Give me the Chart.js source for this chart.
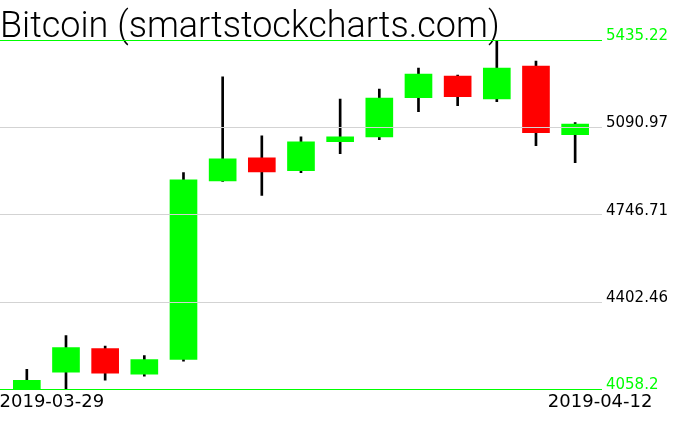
<!DOCTYPE html>
<html>
<head>
<meta charset="utf-8">
<script src="https://cdn.jsdelivr.net/npm/chart.js@4/dist/chart.umd.min.js"></script>
<style>
  html, body { margin: 0; padding: 0; background: #fff; }
  canvas { display: block; }
</style>
</head>
<body>
<canvas id="myChart" width="676" height="431"></canvas>
<script>
var dates = ["2019-03-29", "2019-03-30", "2019-03-31", "2019-04-01", "2019-04-02",
  "2019-04-03", "2019-04-04", "2019-04-05", "2019-04-06", "2019-04-07",
  "2019-04-08", "2019-04-09", "2019-04-10", "2019-04-11", "2019-04-12"];
var opens  = [4060.0, 4126.3, 4219.5, 4118.4, 4176.2, 4880.4, 4970.9, 4921.0, 5035.0, 5053.5, 5208.2, 5293.5, 5203.0, 5332.9, 5062.6];
var highs  = [4136.9, 4270.6, 4228.5, 4192.0, 4913.1, 5290.8, 5057.5, 5053.5, 5203.0, 5242.4, 5325.0, 5297.4, 5435.22, 5352.5, 5109.8];
var lows   = [4058.2, 4061.0, 4094.8, 4110.5, 4169.5, 4878.0, 4822.6, 4913.1, 4987.8, 5043.0, 5153.1, 5176.7, 5192.4, 5019.3, 4952.4];
var closes = [4093.6, 4223.4, 4122.3, 4176.2, 4884.4, 4967.0, 4915.8, 5033.9, 5053.5, 5207.0, 5301.4, 5212.1, 5325.0, 5070.4, 5104.7];
var yTickLabels = ["4058.2", "4402.46", "4746.71", "5090.97", "5435.22"];

var bodies = [];
var wicks = [];
var bodyColors = [];
for (let i = 0; i < dates.length; i++) {
  bodies.push({x: i, y: [opens[i], closes[i]]});
  wicks.push({x: i, y: [lows[i], highs[i]]});
  bodyColors.push(closes[i] >= opens[i] ? "#00ff00" : "#ff0000");
}

// first and last price lines are green
function isEdge(c) {
  return c.index === 0 || c.index === yTickLabels.length - 1;
}

new Chart("myChart", {
  type: "bar",
  data: {
    datasets: [{
      data: bodies,
      backgroundColor: bodyColors,
      borderWidth: 0,
      barThickness: 27,
      grouped: false
    }, {
      data: wicks,
      backgroundColor: "#000000",
      borderWidth: 0,
      barThickness: 2,
      grouped: false
    }]
  },
  options: {
    responsive: false,
    animation: false,
    layout: {padding: {left: 0, right: 4, top: 0, bottom: 16}},
    plugins: {
      legend: {display: false},
      tooltip: {enabled: false},
      title: {
        display: true,
        text: "Bitcoin (smartstockcharts.com)",
        align: "start",
        color: "#000",
        font: {family: "Roboto", size: 36, weight: 300, lineHeight: 0.67},
        padding: {top: 16, bottom: 0}
      }
    },
    scales: {
      x: {
        type: "linear",
        offset: false,
        min: -0.685,
        max: dates.length - 1 + 0.685,
        grid: {display: false, drawTicks: false},
        border: {display: false},
        afterBuildTicks: function(axis) {
          axis.ticks = [{value: 0}, {value: dates.length - 1}];
        },
        afterFit: function(axis) {
          axis.paddingLeft = 0;
          axis.paddingRight = 0;
        },
        ticks: {
          autoSkip: false,
          maxRotation: 0,
          padding: 2,
          labelOffset: 25,
          color: "#000",
          font: {family: "DejaVu Sans", size: 18},
          callback: function(v) { return dates[v]; }
        }
      },
      y: {
        position: "right",
        min: Math.min(...lows),
        max: Math.max(...highs),
        border: {display: false},
        grid: {
          z: 1,
          drawTicks: false,
          color: function(c) { return isEdge(c) ? "#00ff00" : "#d3d3d3"; }
        },
        afterBuildTicks: function(axis) {
          axis.ticks = yTickLabels.map(function(t) { return {value: parseFloat(t)}; });
        },
        ticks: {
          padding: 4,
          labelOffset: -4,
          font: {family: "DejaVu Sans", size: 15},
          color: function(c) { return isEdge(c) ? "#00ff00" : "#000"; },
          callback: function(v, i) { return yTickLabels[i]; }
        }
      }
    }
  }
});
</script>
</body>
</html>
